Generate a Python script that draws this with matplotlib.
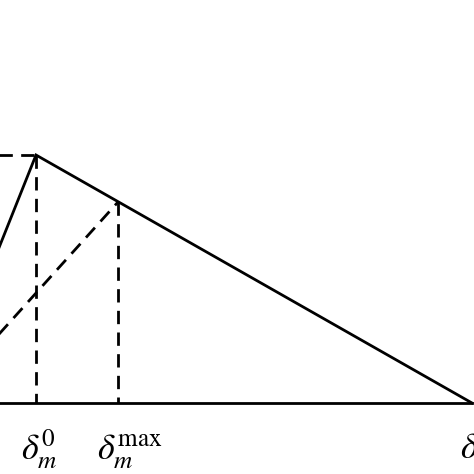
import numpy as np
from matplotlib import pyplot as plt

plt.rcParams["mathtext.fontset"] = "stix"
plt.rcParams["font.family"] = "STIXGeneral"

# bilinear traction-separation law (pixel-like units)
delta_0 = 99        # separation at damage onset
delta_max = 181     # max separation reached
delta_f = 535       # final separation
sigma_0 = 248       # peak traction
sigma_max = 201     # traction on the softening branch at delta_max

labels = [r"$\delta_m^0$", r"$\delta_m^{\max}$", r"$\delta_m^f$"]
label_x = [delta_0 - 15, delta_max - 21, delta_f - 12]

fig = plt.figure(figsize=(4.74, 4.74), dpi=100)
ax = fig.add_axes([0, 0, 1, 1])

lw = 2.0
dash = (4.8, 3.0)

# loading + softening (solid)
ax.plot([0, delta_0, delta_f], [0, sigma_0, 0], color="black", lw=lw,
        solid_joinstyle="miter")
# baseline
ax.plot([0, delta_f], [0, 0], color="black", lw=lw)
# dashed guides
ax.plot([0, delta_0], [sigma_0, sigma_0], color="black", lw=lw, dashes=dash)
ax.plot([delta_0, delta_0], [sigma_0, 0], color="black", lw=lw, dashes=dash)
ax.plot([delta_max, delta_max], [sigma_max, 0], color="black", lw=lw, dashes=dash)
# unloading path
ax.plot([0, delta_max], [0, sigma_max], color="black", lw=lw, dashes=dash)

for lab, x in zip(labels, label_x):
    ax.text(x, -56, lab, fontsize=26, ha="left", va="baseline")

# the reference is a crop: the origin lies left of the visible area
ax.set_xlim(63, 537)
ax.set_ylim(-71, 403)
ax.axis("off")

fig.savefig("out.png", dpi=100)
